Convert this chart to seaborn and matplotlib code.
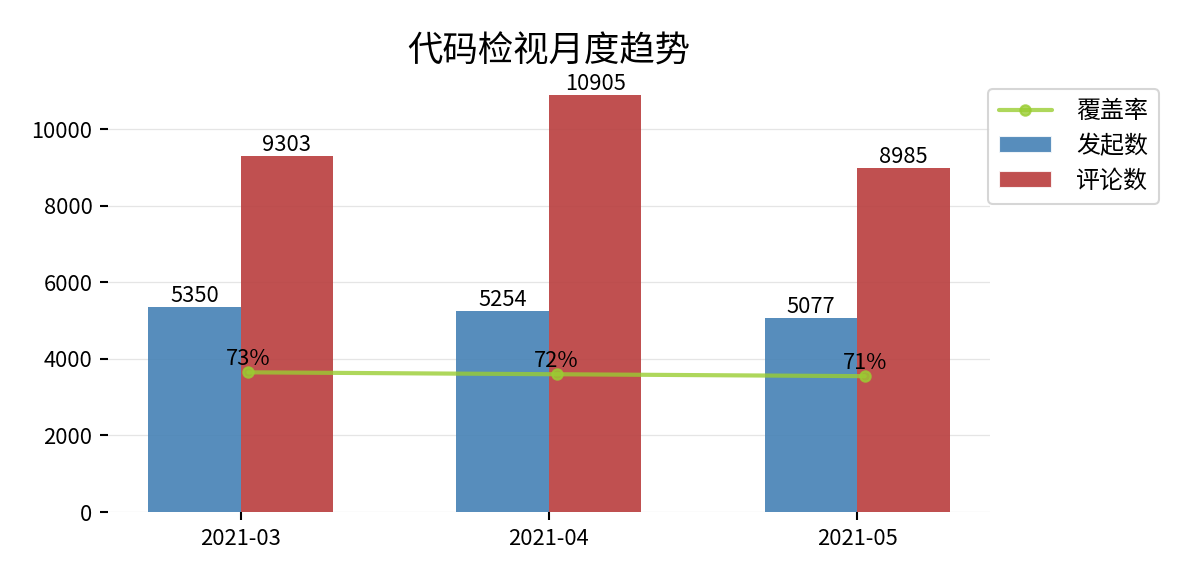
import numpy as np
import pandas as pd
import matplotlib
matplotlib.use("Agg")
import matplotlib.pyplot as plt
import seaborn as sns
from matplotlib.lines import Line2D
from matplotlib.patches import Patch

months = ["2021-03", "2021-04", "2021-05"]
started = [5350, 5254, 5077]
comments = [9303, 10905, 8985]
coverage = [73, 72, 71]  # percent

line_scale = 5000  # coverage drawn on the count axis: 100% -> 5000

sns.set_theme(style="white")
plt.rcParams['font.family'] = ['Noto Sans CJK SC', 'DejaVu Sans']
plt.rcParams['axes.unicode_minus'] = False
plt.rcParams['text.color'] = 'black'
plt.rcParams['xtick.color'] = 'black'
plt.rcParams['ytick.color'] = 'black'
plt.rcParams['axes.labelcolor'] = 'black'

df = pd.DataFrame({
    "month": months * 2,
    "count": started + comments,
    "kind": ["发起数"] * 3 + ["评论数"] * 3,
})

blue = "#4581B5"
red = "#B93D3D"
green = "#9ACD32"

fig = plt.figure(figsize=(7.92, 3.84), dpi=150)
ax = fig.add_axes([0.091, 0.111, 0.742, 0.761])

sns.barplot(data=df, x="month", y="count", hue="kind", palette=[blue, red],
            width=0.6, alpha=0.9, ax=ax, legend=False, saturation=1,
            linewidth=0, edgecolor="none")
for cont in ax.containers:
    ax.bar_label(cont, fontsize=10.5, padding=0, color="black")

xs = np.arange(len(months)) + 0.025
ys = np.array(coverage) / 100 * line_scale
ax.plot(xs, ys, color=green, alpha=0.8, lw=2, marker="o", ms=5, zorder=5)
for x, y, c in zip(xs, ys, coverage):
    ax.text(x, y + 60, f"{c}%", ha="center", va="bottom", fontsize=10.5,
            color="black", zorder=6)

ax.set_xlim(-0.43, 2.43)
ax.set_ylim(0, 11450)
ax.set_yticks(range(0, 10001, 2000))
ax.yaxis.grid(True, color="#e5e5e5", lw=0.6)
ax.set_axisbelow(True)
for s in ax.spines.values():
    s.set_visible(False)
ax.tick_params(axis="both", which="both", length=4, width=1, color="black",
               labelsize=10.5, left=True, bottom=True)
ax.set_xlabel("")
ax.set_ylabel("")
ax.set_title("代码检视月度趋势", fontsize=17, pad=6, color="black")

handles = [
    Line2D([0], [0], color=green, alpha=0.8, lw=2, marker="o", ms=5),
    Patch(facecolor=blue, alpha=0.9),
    Patch(facecolor=red, alpha=0.9),
]
ax.legend(handles, ["覆盖率", "发起数", "评论数"], loc="upper left",
          bbox_to_anchor=(0.985, 0.992), fontsize=11.5, frameon=True,
          fancybox=True, edgecolor="#cccccc", handlelength=2.2,
          handletextpad=1.0, labelspacing=0.5, borderpad=0.45)

fig.savefig("out.png", dpi=150)
